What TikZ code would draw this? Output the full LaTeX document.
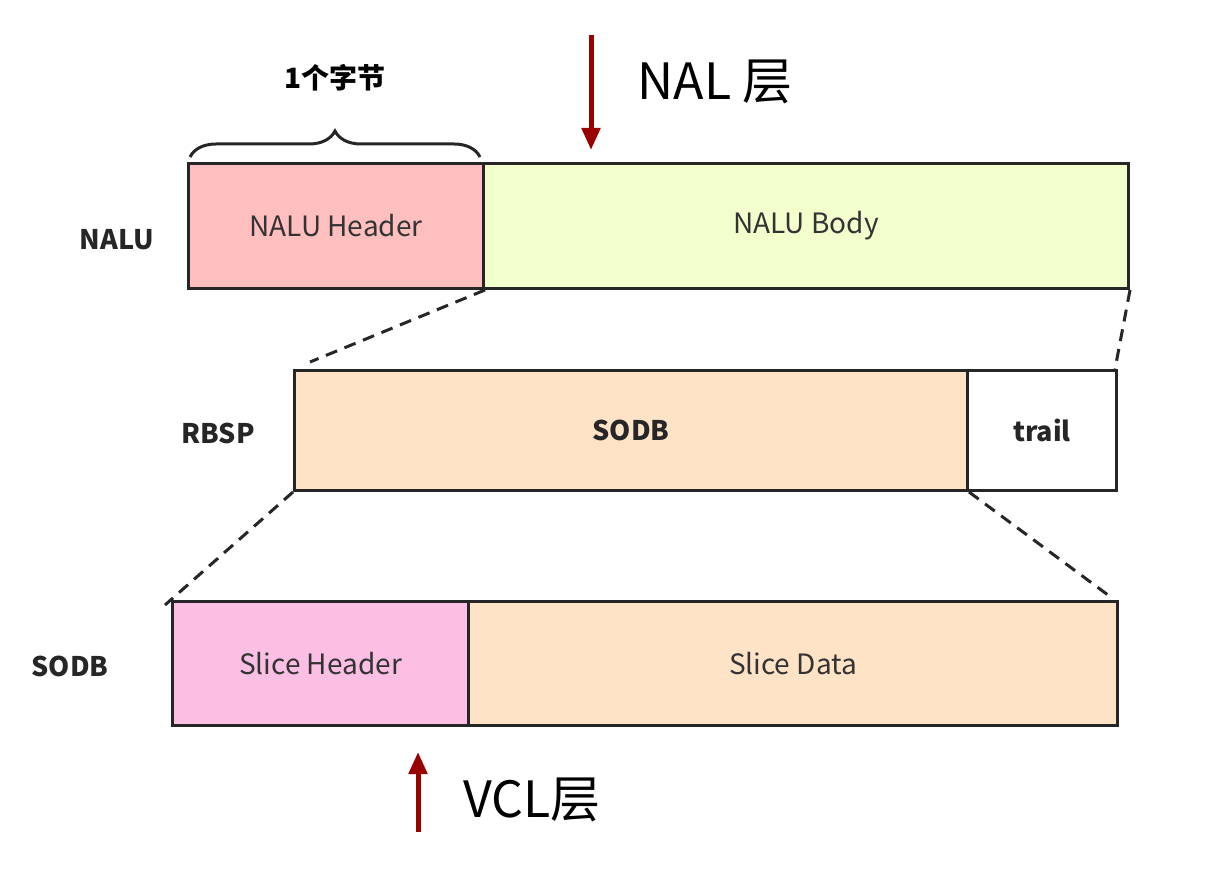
\documentclass[tikz,border=0pt]{standalone}
\usepackage{fontspec}
\setmainfont{Noto Sans CJK SC}
\usetikzlibrary{decorations.pathreplacing,arrows.meta}
\begin{document}
\begin{tikzpicture}[x=1pt,y=-1pt,
 box/.style={draw=black!85,line width=3pt,inner sep=0pt},
 lab/.style={font=\fontsize{28}{30}\selectfont,text=black!80},
 side/.style={font=\fontsize{27}{30}\selectfont\bfseries,text=black!85},
 dsh/.style={line width=3pt,dash pattern=on 12pt off 8pt,black!85},
 arr/.style={-{Triangle[length=22pt,width=18pt]},line width=5pt,draw=red!60!black}]
\useasboundingbox (0,0) rectangle (1206,890);
\node[box,fill=red!25,minimum width=295pt,minimum height=125pt,anchor=north west] (nh) at (187,162) {};
\node[lab] at (nh) {NALU Header};
\node[box,fill=lime!20,minimum width=645pt,minimum height=125pt,anchor=north west] (nb) at (482,162) {};
\node[lab] at (nb) {NALU Body};
\node[box,fill=orange!22,minimum width=673pt,minimum height=120pt,anchor=north west] (rs) at (293,369) {};
\node[side] at (rs) {SODB};
\node[box,fill=white,minimum width=149pt,minimum height=120pt,anchor=north west] (tr) at (966,369) {};
\node[side] at (tr) {trail};
\node[box,fill=magenta!25,minimum width=296pt,minimum height=124pt,anchor=north west] (sh) at (171,600) {};
\node[lab] at (sh) {Slice Header};
\node[box,fill=orange!22,minimum width=649pt,minimum height=124pt,anchor=north west] (sd) at (467,600) {};
\node[lab] at (sd) {Slice Data};
\node[side] (l1) at (117,240) {NALU};
\node[side] (l2) at (218,433) {RBSP};
\node[side] (l3) at (70,666) {SODB};
\coordinate (a1) at (310,362); \coordinate (a2) at (1115,369);
\coordinate (b1) at (165,605); \coordinate (b2) at (1112,598);
\draw[dsh] (nh.south east) -- (a1);
\draw[dsh] (nb.south east) -- (a2);
\draw[dsh] (rs.south west) -- (b1);
\draw[dsh] (rs.south east) -- (b2);
\coordinate (br1) at (190,157); \coordinate (br2) at (480,157);
\draw[decorate,decoration={brace,amplitude=26pt},line width=3pt,black!85] (br1) -- (br2);
\node[font=\fontsize{28}{30}\selectfont\bfseries] (bt) at (335,78) {1个字节};
\coordinate (n1) at (591,35); \coordinate (n2) at (591,150);
\draw[arr] (n1) -- (n2);
\node[anchor=west,font=\fontsize{50}{54}\selectfont] (nt) at (634,82) {NAL 层};
\coordinate (v1) at (418,832); \coordinate (v2) at (418,752);
\draw[arr] (v1) -- (v2);
\node[anchor=west,font=\fontsize{50}{54}\selectfont] (vt) at (460,800) {VCL层};
\end{tikzpicture}
\end{document}
